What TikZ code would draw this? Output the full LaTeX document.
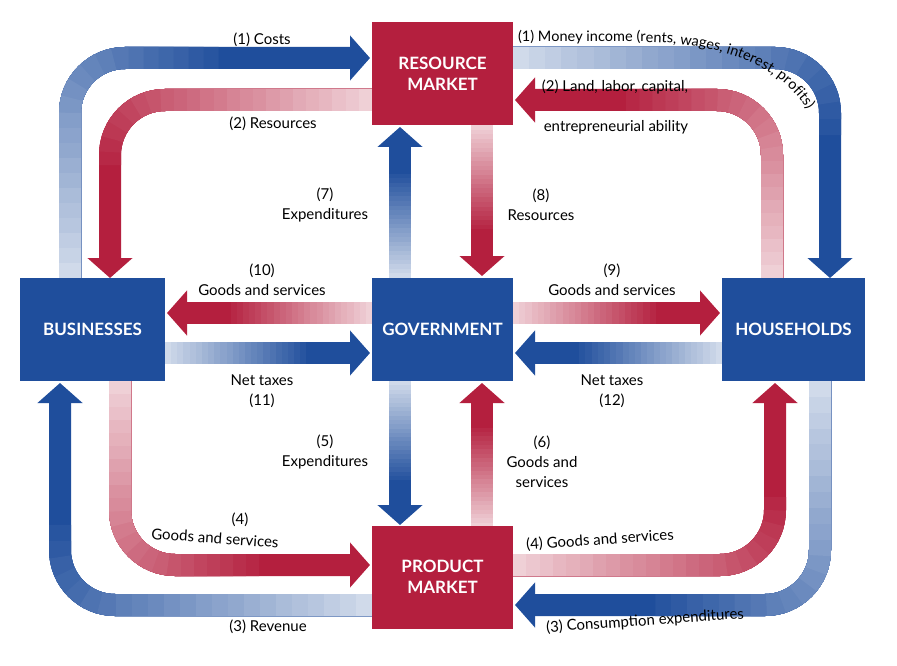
\documentclass[tikz,border=0pt]{standalone}
\usepackage{fontspec}
\setmainfont{Lato}
\usetikzlibrary{arrows.meta,decorations.text}
\definecolor{cblue}{HTML}{1F4E9C}
\definecolor{cred}{HTML}{B41F3E}
\newcommand\gradarrow[3]{%
  \draw[line width=22pt,#1,-{Triangle[length=20pt,width=44pt]}] #3;
  \foreach \k in {1,...,24}{%
    \pgfmathsetmacro\len{#2*(0.72-0.03*\k)}%
    \pgfmathtruncatemacro\pct{100-3.4*\k}%
    \draw[line width=22pt,draw=#1!\pct!white,dash pattern=on \len pt off 5000pt] #3;
  }%
}
\tikzset{box/.style={rectangle,sharp corners,minimum width=141pt,minimum height=103pt,inner sep=0pt,text=white,font=\bfseries\fontsize{17}{21}\selectfont,align=center},
lbl/.style={font=\fontsize{15}{20}\selectfont,align=center}}
\begin{document}
\begin{tikzpicture}[x=1pt,y=-1pt]
\useasboundingbox[fill=white] (0,0) rectangle (897,666);
\begin{scope}[rounded corners=55pt]
\gradarrow{cblue}{500}{(70,278) -- (70,58) -- (370,58)}
\gradarrow{cred}{440}{(372,100) -- (110,100) -- (110,278)}
\gradarrow{cblue}{537}{(513,58) -- (830,58) -- (830,278)}
\gradarrow{cred}{435}{(772,278) -- (772,100) -- (515,100)}
\gradarrow{cblue}{534}{(372,605) -- (60,605) -- (60,383)}
\gradarrow{cred}{434}{(120,381) -- (120,565) -- (370,565)}
\gradarrow{cred}{444}{(513,565) -- (775,565) -- (775,383)}
\gradarrow{cblue}{529}{(820,381) -- (820,605) -- (515,605)}
\end{scope}
\gradarrow{cblue}{151}{(400,278) -- (400,127)}
\gradarrow{cred}{151}{(482,125) -- (482,276)}
\gradarrow{cred}{205}{(372,313) -- (167,313)}
\gradarrow{cblue}{205}{(165,353) -- (370,353)}
\gradarrow{cred}{207}{(513,313) -- (720,313)}
\gradarrow{cblue}{207}{(722,353) -- (515,353)}
\gradarrow{cblue}{144}{(400,381) -- (400,525)}
\gradarrow{cred}{144}{(482,527) -- (482,383)}
\node[box,fill=cred] (rm) at (442.5,73.5) {RESOURCE\\MARKET};
\node[box,fill=cred] (pm) at (442.5,577) {PRODUCT\\MARKET};
\node[box,fill=cblue,minimum width=145pt] (bu) at (92.5,329.5) {BUSINESSES};
\node[box,fill=cblue] (go) at (442.5,329.5) {GOVERNMENT};
\node[box,fill=cblue,minimum width=143pt] (ho) at (793.5,329.5) {HOUSEHOLDS};
\node[lbl] (l1) at (262,40) {(1) Costs};
\node[lbl] (l2) at (273,124) {(2) Resources};
\path[decorate,decoration={text along path,text align=left,text={|\fontsize{14.5}{17}\selectfont|(1) Money income (rents{,} wages{,} interest{,} profits)}}]
  (518,42) -- (640,42) .. controls (730,42) and (805,72) .. (822,145);
\node[lbl] (l3) at (615,87) {(2) Land, labor, capital,};
\node[lbl] (l4) at (616,127) {entrepreneurial ability};
\node[lbl] (l5) at (325,205) {(7)\\Expenditures};
\node[lbl] (l6) at (541,205) {(8)\\Resources};
\node[lbl] (l7) at (262,280) {(10)\\Goods and services};
\node[lbl] (l8) at (612,280) {(9)\\Goods and services};
\node[lbl] (l9) at (262,391) {Net taxes\\(11)};
\node[lbl] (l10) at (612,391) {Net taxes\\(12)};
\node[lbl] (l11) at (325,452) {(5)\\Expenditures};
\node[lbl] (l12) at (542,462) {(6)\\Goods and\\services};
\node[lbl] (l13) at (240,520) {(4)};
\node[lbl,rotate=-4] (l14) at (215,538) {Goods and services};
\node[lbl,rotate=4] (l15) at (600,540) {(4) Goods and services};
\node[lbl] (l16) at (268,627) {(3) Revenue};
\node[lbl,rotate=4] (l17) at (645,621) {(3) Consumption expenditures};
\end{tikzpicture}
\end{document}
